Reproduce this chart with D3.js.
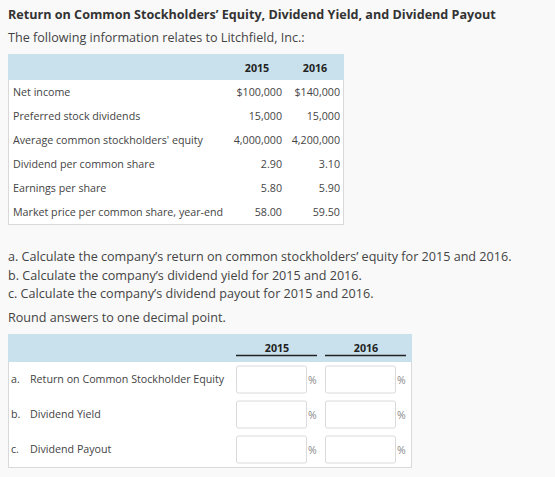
<!DOCTYPE html>
<html><head><meta charset="utf-8">
<script src="https://cdn.jsdelivr.net/npm/d3@7"></script>
<style>
body{margin:0;background:#f9f9f9;}
svg{display:block;font-family:"Open Sans",sans-serif;}
</style></head>
<body><div id="chart"></div>
<script>
const title = "Return on Common Stockholders’ Equity, Dividend Yield, and Dividend Payout";
const subtitle = "The following information relates to Litchfield, Inc.:";
const years = ["2015", "2016"];
const rowLabels = ["Net income", "Preferred stock dividends", "Average common stockholders' equity",
  "Dividend per common share", "Earnings per share", "Market price per common share, year-end"];
const values2015 = ["$100,000", "15,000", "4,000,000", "2.90", "5.80", "58.00"];
const values2016 = ["$140,000", "15,000", "4,200,000", "3.10", "5.90", "59.50"];
const questions = ["a. Calculate the company’s return on common stockholders’ equity for 2015 and 2016.",
  "b. Calculate the company’s dividend yield for 2015 and 2016.",
  "c. Calculate the company’s dividend payout for 2015 and 2016."];
const instruction = "Round answers to one decimal point.";
const answerLetters = ["a.", "b.", "c."];
const answerLabels = ["Return on Common Stockholder Equity", "Dividend Yield", "Dividend Payout"];
const unit = "%";

const W = 555, H = 477;
const svg = d3.select("#chart").append("svg").attr("width", W).attr("height", H);
svg.append("rect").attr("width", W).attr("height", H).attr("fill", "#f9f9f9");

const txt = "#444", blue = "#c9e1ec", border = "#d9d9d9";
const fs = 12.6, tfs = 10.7;

svg.append("text").attr("x", 8).attr("y", 19).attr("font-size", fs).attr("font-weight", 700)
  .attr("fill", "#333").text(title);
svg.append("text").attr("x", 8).attr("y", 42).attr("font-size", fs).attr("fill", txt).text(subtitle);

// Table 1
const t1 = {x: 8, right: 343, top: 54, head: 26, bottom: 224};
const y1 = d3.scaleBand().domain(rowLabels).range([t1.top + t1.head, t1.bottom]);
const x1 = d3.scaleOrdinal().domain(years).range([282, 340]);
const hx1 = d3.scaleOrdinal().domain(years).range([257, 315]);
svg.append("rect").attr("x", t1.x + 0.5).attr("y", t1.top + 0.5).attr("width", t1.right - t1.x).attr("height", t1.bottom - t1.top)
  .attr("fill", "#fff").attr("stroke", border);
svg.append("rect").attr("x", t1.x).attr("y", t1.top).attr("width", t1.right - t1.x + 1).attr("height", t1.head).attr("fill", blue);
svg.selectAll(".yh").data(years).join("text").attr("x", d => hx1(d)).attr("y", t1.top + 17.5)
  .attr("text-anchor", "middle").attr("font-size", tfs).attr("font-weight", 700).attr("fill", "#222").text(d => d);
const rows = svg.selectAll(".r1").data(rowLabels).join("g")
  .attr("transform", d => `translate(0,${y1(d) + y1.bandwidth() / 2 + 3.8})`);
rows.append("text").attr("x", 13).attr("font-size", tfs).attr("fill", txt).text(d => d);
rows.append("text").attr("x", x1("2015")).attr("text-anchor", "end").attr("font-size", tfs).attr("fill", txt)
  .text((d, i) => values2015[i]);
rows.append("text").attr("x", x1("2016")).attr("text-anchor", "end").attr("font-size", tfs).attr("fill", txt)
  .text((d, i) => values2016[i]);

// Questions
const yq = d3.scalePoint().domain(questions).range([261, 298]);
svg.selectAll(".q").data(questions).join("text").attr("x", 8).attr("y", d => yq(d))
  .attr("font-size", fs).attr("fill", txt).text(d => d);
svg.append("text").attr("x", 8).attr("y", 322).attr("font-size", fs).attr("fill", txt).text(instruction);

// Table 2
const t2 = {x: 8, right: 411, top: 334, head: 28, bottom: 467};
const y2 = d3.scaleBand().domain(answerLabels).range([t2.top + t2.head, t2.bottom]);
const x2 = d3.scaleOrdinal().domain(years).range([236, 325]);
svg.append("rect").attr("x", t2.x + 0.5).attr("y", t2.top + 0.5).attr("width", t2.right - t2.x).attr("height", t2.bottom - t2.top)
  .attr("fill", "#fff").attr("stroke", border);
svg.append("rect").attr("x", t2.x).attr("y", t2.top).attr("width", t2.right - t2.x + 1).attr("height", t2.head).attr("fill", blue);
const hd = svg.selectAll(".h2").data(years).join("g").attr("transform", d => `translate(${x2(d)},0)`);
hd.append("text").attr("x", 41).attr("y", t2.top + 18).attr("text-anchor", "middle").attr("font-size", tfs)
  .attr("font-weight", 700).attr("fill", "#222").text(d => d);
hd.append("line").attr("x1", 0).attr("x2", 81).attr("y1", 355.5).attr("y2", 355.5).attr("stroke", "#222").attr("stroke-width", 1.3);

const r2 = svg.selectAll(".r2").data(answerLabels).join("g")
  .attr("transform", d => `translate(0,${y2(d) + y2.bandwidth() / 2})`);
r2.append("text").attr("x", 11).attr("y", 3.8).attr("font-size", tfs).attr("fill", txt).text((d, i) => answerLetters[i]);
r2.append("text").attr("x", 30).attr("y", 3.8).attr("font-size", tfs).attr("fill", txt).text(d => d);
years.forEach(yr => {
  r2.append("rect").attr("x", x2(yr) + 0.5).attr("y", -13.5).attr("width", 70).attr("height", 27).attr("rx", 2)
    .attr("fill", "#fff").attr("stroke", "#dadada");
  r2.append("text").attr("x", x2(yr) + 72).attr("y", 4.5).attr("font-size", 10.5).attr("fill", "#888").text(unit);
});
</script></body></html>
